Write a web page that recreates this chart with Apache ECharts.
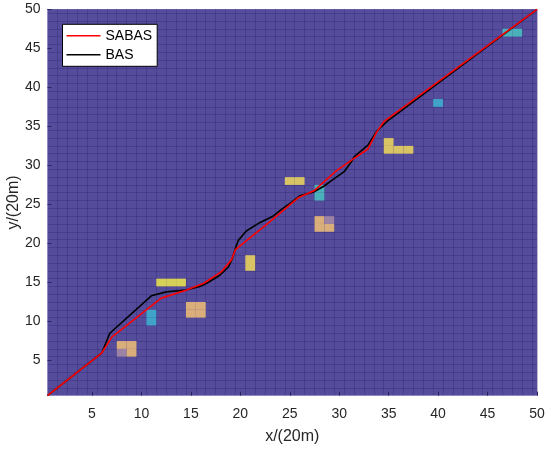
<!DOCTYPE html>
<html><head><meta charset="utf-8">
<script src="https://cdn.jsdelivr.net/npm/echarts@6/dist/echarts.min.js"></script>
<style>html,body{margin:0;padding:0;background:#fff}#c{width:550px;height:449px}</style>
</head><body><div id="c"></div>
<script>
// ---- data ----
const xTicks = [5,10,15,20,25,30,35,40,45,50];
const yTicks = [5,10,15,20,25,30,35,40,45,50];
const sabasPath = [[0.5,0.5],[6,6],[7,8],[12,13],[14.5,14],[16.3,14.9],[18.1,16.4],[19.1,17.9],[19.5,19.2],[23,22.8],[25.9,25.9],[27.5,26.8],[29.7,29.3],[31.4,30.8],[32.9,32.1],[33.8,34.3],[34.5,35.6],[50,50]];
const basPath = [[0.5,0.5],[6,6],[6.8,8.5],[11,13.3],[12.5,13.8],[14.5,14.05],[15.9,14.5],[16.6,14.9],[17.9,15.9],[18.8,17],[19.2,18.1],[19.5,19.4],[19.8,20.4],[20.6,21.6],[22,22.7],[23.3,23.5],[24.3,24.5],[25.2,25.3],[26,26.1],[27.4,26.6],[28.4,27.3],[29.5,28.3],[30.5,29.2],[31.3,30.6],[31.5,31.1],[32.9,32.6],[33.8,34.4],[34.8,35.6],[50,50]];
const obsX = [8,9,8,9, 11,11, 12,13,14, 15,16,15,16, 21,21, 25,26, 28,28, 28,29,28,29, 35,35,36,37, 40, 47,48];
const obsY = [6,6,7,7, 10,11, 15,15,15, 11,11,12,12, 17,18, 28,28, 26,27, 22,22,23,23, 33,32,32,32, 38, 47,47];
const obsKind = ['p','t','t','t', 'c','c', 'y','y','y', 't','t','t','t', 'y2','y2', 'y2','y2', 'g','g', 't','t','t','p', 'y2','y2','y2','y2', 'c', 'g','g'];
const seriesNames = ['SABAS','BAS'];

// ---- styles ----
const kindColor = {p:'#9c82a4', t:'#d9ae7a', c:'#3fa4c8', y:'#d6cf58', y2:'#d8c365', g:'#4ab0ba'};
const obsData = obsX.map((x,i)=>[x, obsY[i], obsKind[i]]);

const chart = echarts.init(document.getElementById('c'), null, {renderer:'canvas'});
const font = '"Liberation Sans", Arial, sans-serif';
chart.setOption({
  animation:false,
  grid:{left:47.5, right:13, top:9.3, bottom:53.3, show:true, backgroundColor:'#554d9c', borderWidth:0,
        containLabel:false, outerBoundsMode:'none'},
  legend:{
    data:seriesNames.map(n=>({name:n, icon:'rect'})), orient:'vertical', left:62.5, top:24.3,
    itemWidth:34, itemHeight:1.6, itemGap:4,
    padding:[4,5,4,4], backgroundColor:'#fff', borderColor:'#000', borderWidth:1, borderRadius:0,
    textStyle:{fontFamily:font, fontSize:14, color:'#000', lineHeight:15}
  },
  xAxis:[{
    type:'value', min:0.5, max:50, name:'x/(20m)', nameLocation:'middle', nameGap:33,
    nameTextStyle:{fontFamily:font, fontSize:16, color:'#262626'},
    axisLine:{show:true, lineStyle:{color:'#8f8ac0'}},
    axisTick:{show:true, inside:true, length:4, customValues:xTicks, lineStyle:{color:'#2a2560'}},
    axisLabel:{customValues:xTicks, fontFamily:font, fontSize:14, color:'#262626', margin:11},
    splitLine:{show:false}
  },{
    type:'value', min:0, max:49.5, interval:1, show:true, position:'top',
    axisLine:{show:false}, axisTick:{show:false}, axisLabel:{show:false},
    splitLine:{show:true, lineStyle:{color:'rgba(40,30,110,0.3)', width:1}}
  }],
  yAxis:[{
    type:'value', min:0.5, max:50, name:'y/(20m)', nameLocation:'middle', nameGap:26, nameMoveOverlap:false,
    nameTextStyle:{fontFamily:font, fontSize:16, color:'#262626'},
    axisLine:{show:true, lineStyle:{color:'#8f8ac0'}},
    axisTick:{show:true, inside:true, length:4, customValues:yTicks, lineStyle:{color:'#2a2560'}},
    axisLabel:{customValues:yTicks, fontFamily:font, fontSize:14, color:'#262626', margin:7},
    splitLine:{show:false}
  },{
    type:'value', min:0, max:49.5, interval:1, show:true, position:'right',
    axisLine:{show:false}, axisTick:{show:false}, axisLabel:{show:false},
    splitLine:{show:true, lineStyle:{color:'rgba(40,30,110,0.3)', width:1}}
  }],
  series:[
    {
      type:'custom', name:'obstacles', xAxisIndex:0, yAxisIndex:0, z:2, silent:true,
      data:obsData,
      renderItem:function(params, api){
        const x = api.value(0), y = api.value(1);
        const p0 = api.coord([x-0.5, y+0.5]);
        const p1 = api.coord([x+0.5, y-0.5]);
        const kind = obsData[params.dataIndex][2];
        return {type:'rect', shape:{x:p0[0], y:p0[1], width:p1[0]-p0[0], height:p1[1]-p0[1]},
          style:{fill:kindColor[kind], stroke:null}};
      }
    },
    {type:'line', name:'BAS', data:basPath, symbol:'none', z:3, xAxisIndex:0, yAxisIndex:0,
      lineStyle:{color:'#000', width:1.6}, itemStyle:{color:'#000'}},
    {type:'line', name:'SABAS', data:sabasPath, symbol:'none', z:4, xAxisIndex:0, yAxisIndex:0,
      lineStyle:{color:'#ff0000', width:1.6}, itemStyle:{color:'#ff0000'}}
  ]
});
</script></body></html>
